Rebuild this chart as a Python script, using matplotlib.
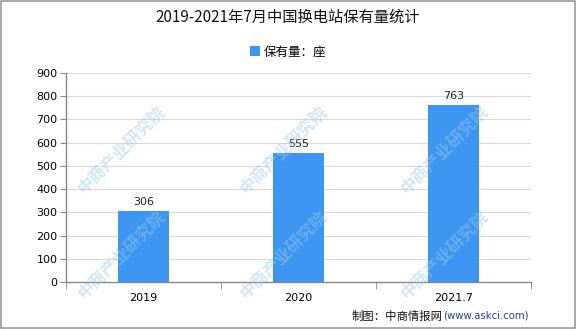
import matplotlib
matplotlib.use("Agg")
import matplotlib.pyplot as plt
from matplotlib.patches import Rectangle

plt.rcParams['font.family'] = ['Noto Sans CJK SC', 'DejaVu Sans']

categories = ['2019', '2020', '2021.7']
values = [306, 555, 763]
yticks = [0, 100, 200, 300, 400, 500, 600, 700, 800, 900]

fig = plt.figure(figsize=(5.76, 3.29), dpi=100)
fig.patch.set_facecolor('white')

# watermarks (kept inside the figure)
for wx in [0.13, 0.41, 0.69]:
    for wy in [0.40, 0.08]:
        fig.text(wx, wy, '中商产业研究院', rotation=45, fontsize=12, color='#9cc7e6',
                 alpha=0.45, ha='left', va='bottom', fontweight='bold', zorder=0)

ax = fig.add_axes([66/576, 1-282/329, (531-66)/576, (282-73)/329])
ax.set_facecolor('none')
x = list(range(len(categories)))
bars = ax.bar(x, values, width=0.33, color='#3d96f2', zorder=3, label='保有量：座')
for xi, v in zip(x, values):
    ax.text(xi, v + 18, str(v), ha='center', va='bottom', fontsize=8, color='#222222',
            family=['DejaVu Sans'])

ax.set_xlim(-0.5, len(categories) - 0.5)
ax.set_ylim(0, 900)
ax.set_yticks(yticks)
ax.set_yticklabels([str(t) for t in yticks], fontsize=8, family=['DejaVu Sans'])
ax.set_xticks(x)
ax.set_xticklabels(categories, fontsize=8, family=['DejaVu Sans'])
ax.tick_params(axis='x', length=0, pad=8)
ax.set_xticks([-0.5, 0.5, 1.5, 2.5], minor=True)
ax.tick_params(axis='x', which='minor', length=5, color='#888888', direction='out')
ax.tick_params(axis='y', length=4, color='#888888', pad=2)
ax.grid(axis='y', color='#d9d9d9', linewidth=0.8, zorder=0)
for s in ['top', 'right']:
    ax.spines[s].set_visible(False)
for s in ['left', 'bottom']:
    ax.spines[s].set_color('#888888')
    ax.spines[s].set_linewidth(1)

fig.text(0.5, 1-17/329, '2019-2021年7月中国换电站保有量统计', ha='center', va='center',
         fontsize=11, color='#111111')
leg = fig.legend(handles=[bars], labels=['保有量：座'], loc='center', bbox_to_anchor=(0.5, 1-52/329),
                 frameon=False, fontsize=9, handlelength=0.8, handleheight=0.8, handletextpad=0.3)

fig.text(352/576, 1-316/329, '制图：中商情报网', ha='left', va='center', fontsize=8.2, color='#111111')
fig.text(443/576, 1-316/329, '(www.askci.com)', ha='left', va='center', fontsize=7.3, color='#1f3f8f',
         family=['DejaVu Sans'])

fig.add_artist(Rectangle((0.001, 0.002), 0.997, 0.996, transform=fig.transFigure, fill=False,
                         edgecolor='#999999', linewidth=1.2))

fig.savefig('out.png', dpi=100)
